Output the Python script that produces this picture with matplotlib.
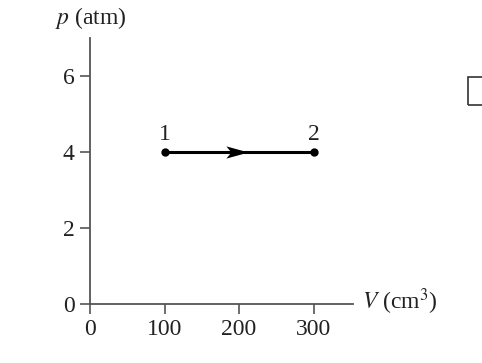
import matplotlib
matplotlib.use("Agg")
import matplotlib.pyplot as plt
from matplotlib.patches import Rectangle
from matplotlib.path import Path

# Data
volumes = [100, 300]          # cm^3
pressures = [4, 4]            # atm
state_labels = ["1", "2"]
x_ticks = [0, 100, 200, 300]
y_ticks = [0, 2, 4, 6]

plt.rcParams['font.family'] = ['Liberation Serif', 'DejaVu Serif']
plt.rcParams['mathtext.fontset'] = 'stix'

W, H = 482, 363
fig = plt.figure(figsize=(W / 100, H / 100), dpi=100)
x0, x1 = 90, 353
y0, y1 = 304, 38
ax = fig.add_axes([x0 / W, (H - y0) / H, (x1 - x0) / W, (y0 - y1) / H])
ax.set_xlim(0, 353)
ax.set_ylim(0, 7.0)

spine_col = '#555555'
txt_col = '#222222'
fs = 17
for s in ['top', 'right']:
    ax.spines[s].set_visible(False)
for s in ['left', 'bottom']:
    ax.spines[s].set_color(spine_col)
    ax.spines[s].set_linewidth(1.3)

ax.set_xticks(x_ticks)
ax.set_yticks(y_ticks)
ax.set_xticklabels([str(v) for v in x_ticks])
ax.set_yticklabels([str(v) for v in y_ticks])
ax.tick_params(axis='both', direction='out', length=7, width=1.2, color=spine_col,
               labelsize=fs, labelcolor=txt_col)
ax.tick_params(axis='x', pad=4)
ax.tick_params(axis='y', pad=4)

# Process line
ax.plot(volumes, pressures, color='black', lw=2.2, solid_capstyle='butt', zorder=3)
ax.plot(volumes, pressures, 'o', color='black', ms=5, zorder=4)
mid = (volumes[0] + volumes[1]) / 2
head = Path([(1.0, 0.0), (-1.0, 0.55), (-0.55, 0.0), (-1.0, -0.55), (1.0, 0.0)],
            [Path.MOVETO, Path.LINETO, Path.LINETO, Path.LINETO, Path.CLOSEPOLY])
ax.plot([mid - 3], [pressures[0]], marker=head, ms=16, color='black', mew=0, zorder=5)
for v, p, lab in zip(volumes, pressures, state_labels):
    ax.annotate(lab, (v, p), xytext=(0, 5), textcoords='offset points',
                ha='center', va='bottom', fontsize=fs, color=txt_col)

# Axis labels
fig.text(55 / W, 1 - 18 / H, r'$p$ (atm)', fontsize=fs, ha='left', va='center', color=txt_col)
fig.text(362 / W, 1 - 302 / H, r'$V$ (cm$^3$)', fontsize=fs, ha='left', va='center', color=txt_col)

# Partial box at right edge
fig.patches.append(Rectangle((468 / W, 1 - 105 / H), 30 / W, 28 / H,
                             transform=fig.transFigure, fill=False,
                             edgecolor='#333333', lw=1.2))

fig.savefig('out.png', dpi=100)
